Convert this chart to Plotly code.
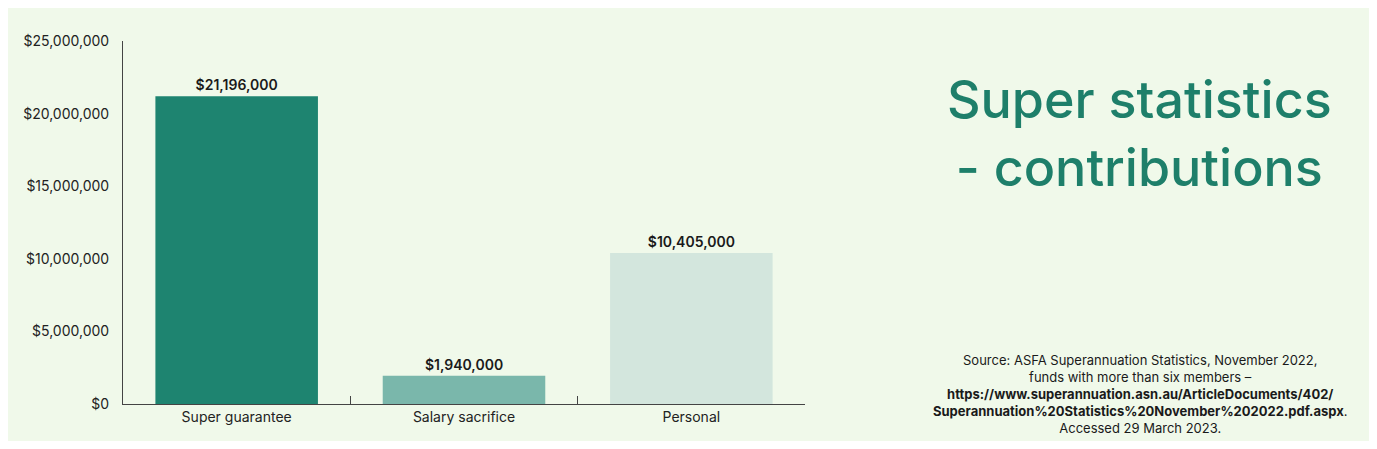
import plotly.graph_objects as go

categories = ["Super guarantee", "Salary sacrifice", "Personal"]
values = [21196000, 1940000, 10405000]
bar_colors = ["#1e8470", "#7ab7ab", "#d3e6dd"]
tick_vals = [0, 5000000, 10000000, 15000000, 20000000, 25000000]
tick_text = ["$0", "$5,000,000", "$10,000,000", "$15,000,000", "$20,000,000", "$25,000,000"]

fig = go.Figure(go.Bar(
    x=categories, y=values, marker_color=bar_colors, marker_line_width=0,
    width=0.715,
    text=[f"${v:,}" for v in values], textposition="outside",
    textfont=dict(family="Inter", size=14, color="#1a1a1a", weight=600),
    cliponaxis=False,
))
bg = "#f0f9ea"
fig.update_layout(
    width=1361, height=433, paper_bgcolor=bg, plot_bgcolor=bg,
    margin=dict(l=115, r=564, t=33, b=37),
    showlegend=False,
    font=dict(family="Inter", size=14, color="#222"),
    yaxis=dict(range=[0, 25000000], tickvals=tick_vals, ticktext=tick_text,
               showgrid=False, zeroline=False, showline=True, linecolor="#444",
               linewidth=1, ticks="", ticklabelstandoff=10,
               tickfont=dict(size=14, color="#222")),
    xaxis=dict(showline=True, linecolor="#444", linewidth=1, showgrid=False,
               tickson="boundaries", ticks="inside", ticklen=8, tickcolor="#444",
               tickfont=dict(size=14, color="#222")),
    annotations=[
        dict(xref="paper", yref="paper", x=1.491, y=0.93, xanchor="center", yanchor="top",
             text="Super statistics<br>- contributions", showarrow=False,
             font=dict(family="Inter", size=52, color="#1e7f6a", weight=500)),
        dict(xref="paper", yref="paper", x=1.491, y=-0.094, xanchor="center", yanchor="bottom",
             text="Source: ASFA Superannuation Statistics, November 2022,<br>funds with more than six members –<br>"
                  "<b>https://www.superannuation.asn.au/ArticleDocuments/402/</b><br>"
                  "<b>Superannuation%20Statistics%20November%202022.pdf.aspx</b>.<br>Accessed 29 March 2023.",
             showarrow=False, align="center",
             font=dict(family="Inter", size=13, color="#1a1a1a")),
    ],
)
fig.write_html("out.html")
